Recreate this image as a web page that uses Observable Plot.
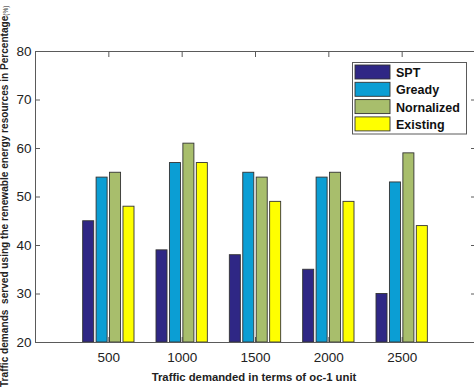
<!DOCTYPE html>
<html><head><meta charset="utf-8">
<script src="https://cdn.jsdelivr.net/npm/d3@7"></script>
<script src="https://cdn.jsdelivr.net/npm/@observablehq/plot@0.6"></script>
<style>
html,body{margin:0;padding:0;background:#fff;overflow:hidden;}
#chart{position:relative;width:474px;height:388px;overflow:hidden;}
#chart svg{position:absolute;left:0;top:0;max-width:none !important;}
</style></head><body><div id="chart"></div>
<script>
const categories = [500, 1000, 1500, 2000, 2500];
const series = ["SPT", "Gready", "Nornalized", "Existing"];
const sptValues = [45, 39, 38, 35, 30];
const greadyValues = [54, 57, 55, 54, 53];
const nornalizedValues = [55, 61, 54, 55, 59];
const existingValues = [48, 57, 49, 49, 44];
const yTicks = [20, 30, 40, 50, 60, 70, 80];
const xDomain = [0, 3000];
const colors = ["#2f2785", "#0b9ed4", "#a8be6c", "#ffff00"];
const xTitle = "Traffic demanded in terms of oc-1 unit";
const yTitle = "Traffic demands  served using the renewable energy resources in Percentage";
const yTitleUnit = "(%)";

const valuesBySeries = [sptValues, greadyValues, nornalizedValues, existingValues];
const rows = [];
series.forEach((s, si) => categories.forEach((c, ci) =>
  rows.push({category: c, series: s, value: valuesBySeries[si][ci]})));

// grouped-bar layout inside each category (as MATLAB's bar does)
const spacing = categories[1] - categories[0];
const inner = d3.scaleBand().domain(series).range([-0.35 * spacing, 0.35 * spacing]).paddingInner(0.18);

const axisColor = "#5a5a5a";
const font = "'Liberation Sans', Arial, Helvetica, sans-serif";

const chart = Plot.plot({
  width: 477, height: 388,
  marginLeft: 35, marginRight: 2, marginTop: 51, marginBottom: 46,
  style: {fontFamily: font, fontSize: "13.5px", color: "#222", background: "#fff", overflow: "visible", maxWidth: "none"},
  x: {domain: xDomain},
  y: {domain: [yTicks[0], yTicks[yTicks.length - 1]]},
  color: {domain: series, range: colors},
  marks: [
    Plot.axisY(yTicks, {anchor: "left", tickSize: -5, tickFormat: () => "", label: null, stroke: axisColor}),
    Plot.axisY(yTicks, {anchor: "right", tickSize: -5, tickFormat: () => "", label: null, stroke: axisColor}),
    Plot.axisX(categories, {anchor: "bottom", tickSize: -5, tickFormat: () => "", label: null, stroke: axisColor}),
    Plot.axisX(categories, {anchor: "top", tickSize: -5, tickFormat: () => "", label: null, stroke: axisColor}),
    Plot.rectY(rows, {
      x1: d => d.category + inner(d.series),
      x2: d => d.category + inner(d.series) + inner.bandwidth(),
      y1: yTicks[0], y2: "value",
      fill: "series", stroke: "#333", strokeWidth: 0.9
    }),
    Plot.axisY(yTicks, {anchor: "left", tickSize: 0, tickPadding: 4, label: null, tickFormat: d => String(d)}),
    Plot.axisX(categories, {anchor: "bottom", tickSize: 0, tickPadding: 10, label: null, tickFormat: d => String(d)}),
    Plot.frame({stroke: axisColor})
  ]
});

const root = document.getElementById("chart");
root.appendChild(chart);
const svg = d3.select(chart);

// axis titles
svg.append("text")
  .attr("x", 254).attr("y", 381)
  .attr("text-anchor", "middle")
  .style("font-family", font).style("font-weight", "bold").style("font-size", "11.3px")
  .attr("fill", "#222")
  .text(xTitle);

const yt = svg.append("text")
  .attr("transform", "translate(7.5,387) rotate(-90)")
  .attr("text-anchor", "start")
  .style("font-family", font).style("font-weight", "bold").style("font-size", "10.1px")
  .attr("fill", "#222");
yt.append("tspan").text(yTitle);
yt.append("tspan").style("font-size", "6.5px").style("font-weight", "normal").text(yTitleUnit);

// legend
const lg = svg.append("g").attr("transform", "translate(352.5,62.5)");
lg.append("rect").attr("width", 114).attr("height", 71.5)
  .attr("fill", "#fff").attr("stroke", axisColor);
series.forEach((s, i) => {
  const g = lg.append("g").attr("transform", `translate(2.5,${2.5 + i * 17.3})`);
  g.append("rect").attr("width", 35).attr("height", 14)
    .attr("fill", colors[i]).attr("stroke", "#333").attr("stroke-width", 0.9);
  g.append("text").attr("x", 41).attr("y", 12)
    .attr("text-anchor", "start")
    .style("font-family", font).style("font-weight", "bold").style("font-size", "12.5px")
    .attr("fill", "#111").text(s);
});
</script>
</body></html>
